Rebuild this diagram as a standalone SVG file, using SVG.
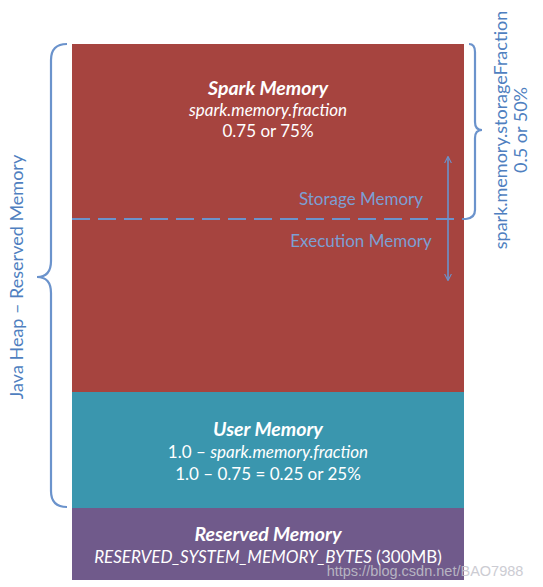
<svg xmlns="http://www.w3.org/2000/svg" width="543" height="587" viewBox="0 0 543 587">
<style>
text{font-family:Lato,"Open Sans","Liberation Sans",sans-serif;text-anchor:middle}
.w{fill:#ffffff;font-size:17px}
.t{font-size:19.5px;font-weight:bold;font-style:italic}
.i{font-style:italic}
.b{fill:#7c9fd3;font-size:17px}
.lab{fill:#4f7fc0;font-size:18px}
.br{fill:none;stroke:#6b93cc;stroke-width:2.2}
</style>
<defs>
<marker id="ah" viewBox="0 0 10 10" refX="9" refY="5" markerWidth="7" markerHeight="9" orient="auto-start-reverse" markerUnits="userSpaceOnUse">
<path d="M0,0 L10,5 L0,10" fill="none" stroke="#6b93cc" stroke-width="1.5"/>
</marker>
</defs>
<rect width="543" height="587" fill="#ffffff"/>
<g id="spark-memory">
<rect x="72" y="44" width="392" height="348" fill="#a6443f"/>
<text class="w t" x="268" y="95">Spark Memory</text>
<text class="w i" x="268" y="116">spark.memory.fraction</text>
<text class="w" x="268" y="137">0.75 or 75%</text>
</g>
<g id="storage-memory"><text class="b" x="361" y="205">Storage Memory</text></g>
<g id="execution-memory"><text class="b" x="361" y="247">Execution Memory</text></g>
<g id="user-memory">
<rect x="72" y="392" width="392" height="116" fill="#3a96ae"/>
<text class="w t" x="268" y="436">User Memory</text>
<text class="w" x="268" y="458">1.0 – <tspan class="i">spark.memory.fraction</tspan></text>
<text class="w" x="268" y="480">1.0 – 0.75 = 0.25 or 25%</text>
</g>
<g id="reserved-memory">
<rect x="72" y="508" width="392" height="72" fill="#705a8b"/>
<text class="w t" x="268" y="541">Reserved Memory</text>
<text class="w" x="268" y="563"><tspan class="i">RESERVED_SYSTEM_MEMORY_BYTES</tspan> (300MB)</text>
</g>
<g id="connectors">
<line x1="72" y1="219" x2="466" y2="219" stroke="#6b93cc" stroke-width="2.2" stroke-dasharray="18,8"/>
<line x1="448" y1="157" x2="448" y2="280" stroke="#6b93cc" stroke-width="1.6" marker-start="url(#ah)" marker-end="url(#ah)"/>
<path class="br" d="M67,44 Q51,44 51,60 L51,261 Q51,277 37,277 Q51,277 51,293 L51,491 Q51,507 67,507"/>
<path class="br" d="M469,44 Q475,44 475,52 L475,122 Q475,130 482,130 Q475,130 475,138 L475,210 Q475,218 466,219"/>
</g>
<g id="left-label"><text class="lab" transform="translate(23,277) rotate(-90)">Java Heap – Reserved Memory</text></g>
<g id="right-label">
<text class="lab" transform="translate(507,130) rotate(-90)">spark.memory.storageFraction</text>
<text class="lab" transform="translate(527,130) rotate(-90)">0.5 or 50%</text>
</g>
<text x="425" y="576" style="font-family:'Liberation Sans',sans-serif;font-size:14.5px;fill:#c4c4cc;opacity:0.85">https://blog.csdn.net/BAO7988</text>
</svg>
